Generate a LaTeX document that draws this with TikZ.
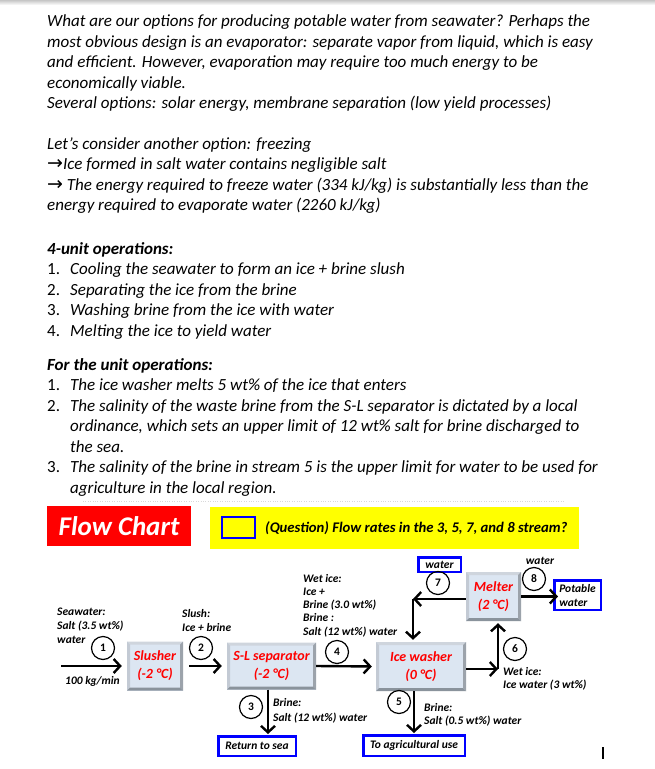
\documentclass[tikz,border=0pt]{standalone}
\usepackage{fontspec}
\setmainfont{Carlito}
\newfontfamily\arrowfont{DejaVu Sans}
\usepackage{xcolor}
\usetikzlibrary{arrows.meta, calc}
\definecolor{procfill}{HTML}{DCE6F2}
\definecolor{bevlight}{HTML}{C3CAD4}
\definecolor{bevdark}{HTML}{8A939C}
\definecolor{unitred}{HTML}{FF0000}
\definecolor{tagblue}{HTML}{0000FF}
\definecolor{qyellow}{HTML}{FFFF00}
\newcommand{\bodyfont}{\fontsize{17}{20.5}\selectfont\itshape}
\newcommand{\labfont}{\fontsize{11.5}{14}\selectfont\bfseries\itshape}
\newcommand{\arr}{{\arrowfont\fontsize{19}{19}\selectfont →}}

\tikzset{
  bodyline/.style={anchor=base west, inner sep=0pt, font=\bodyfont},
  headline/.style={anchor=base west, inner sep=0pt, font=\bodyfont\bfseries},
  unitbox/.style={fill=procfill, inner sep=0pt, align=center, text=unitred,
    font=\fontsize{14}{18}\selectfont\bfseries\itshape,
    path picture={
      \fill[bevlight!80!white] (path picture bounding box.north west) -- (path picture bounding box.north east)
        -- ([shift={(-3pt,-3pt)}]path picture bounding box.north east) -- ([shift={(3pt,-3pt)}]path picture bounding box.north west) -- cycle;
      \fill[bevlight] (path picture bounding box.north west) -- ([shift={(3pt,-3pt)}]path picture bounding box.north west)
        -- ([shift={(3pt,3pt)}]path picture bounding box.south west) -- (path picture bounding box.south west) -- cycle;
      \fill[bevdark!85!white] (path picture bounding box.north east) -- (path picture bounding box.south east)
        -- ([shift={(-3pt,3pt)}]path picture bounding box.south east) -- ([shift={(-3pt,-3pt)}]path picture bounding box.north east) -- cycle;
      \fill[bevdark] (path picture bounding box.south west) -- (path picture bounding box.south east)
        -- ([shift={(-3pt,3pt)}]path picture bounding box.south east) -- ([shift={(3pt,3pt)}]path picture bounding box.south west) -- cycle;
    }},
  streamno/.style={circle, draw, line width=1.2pt, minimum size=23pt, inner sep=0pt,
    font=\fontsize{11.5}{11.5}\selectfont\bfseries},
  flow/.style={line width=2.4pt, -{Straight Barb[length=6.5pt, width=14pt, line width=2.4pt]}},
  tagbox/.style={draw=tagblue, line width=2.5pt, fill=white, inner sep=0pt, font=\labfont},
  lab/.style={anchor=north west, inner sep=0pt, align=left, font=\labfont},
}

\begin{document}
\begin{tikzpicture}[x=1pt, y=-1pt]
  \useasboundingbox (0,0) rectangle (655,769);
  \fill[white] (0,0) rectangle (655,769);
  \shade[top color=gray!45, bottom color=white] (0,0) rectangle (655,5);

  % Intro text
  \foreach \ty/\tline [count=\k] in {
      26/{What are our options for producing potable water from seawater? Perhaps the},
      47/{most obvious design is an evaporator: separate vapor from liquid, which is easy},
      67/{and efficient. However, evaporation may require too much energy to be},
      88/{economically viable.},
      108/{Several options: solar energy, membrane separation (low yield processes)},
      149/{Let’s consider another option: freezing},
      169/{\arr Ice formed in salt water contains negligible salt},
      190/{\arr\ The energy required to freeze water (334 kJ/kg) is substantially less than the},
      210/{energy required to evaporate water (2260 kJ/kg)}}
    \node[bodyline] (intro\k) at (47,\ty) {\tline};

  % Unit operations
  \node[headline] (opshead) at (47,254) {4-unit operations:};
  \foreach \ty/\lno/\tline [count=\k] in {
      274/1./{Cooling the seawater to form an ice + brine slush},
      295/2./{Separating the ice from the brine},
      315/3./{Washing brine from the ice with water},
      336/4./{Melting the ice to yield water}}
    \node[bodyline] (ops\k) at (47,\ty) {\makebox[23pt][l]{\upshape\lno}\tline};

  % Conditions
  \node[headline] (condhead) at (47,370) {For the unit operations:};
  \foreach \ty/\lno/\tline [count=\k] in {
      390/1./{The ice washer melts 5 wt\% of the ice that enters},
      411/2./{The salinity of the waste brine from the S-L separator is dictated by a local},
      431/{}/{ordinance, which sets an upper limit of 12 wt\% salt for brine discharged to},
      452/{}/{the sea.},
      472/3./{The salinity of the brine in stream 5 is the upper limit for water to be used for},
      493/{}/{agriculture in the local region.}}
    \node[bodyline] (cond\k) at (47,\ty) {\makebox[23pt][l]{\upshape\lno}\tline};

  \draw[gray!30, dotted] (83,501) -- (565,501);

  % Title bar
  \node[fill=unitred, minimum width=144pt, minimum height=40pt, inner sep=0pt,
        text=white, font=\fontsize{27}{27}\selectfont\bfseries\itshape]
    (title) at (119,526) {Flow Chart};
  \node[fill=qyellow, minimum width=369pt, minimum height=42pt, inner sep=0pt]
    (qbar) at (394.5,528) {};
  \node[draw=tagblue, line width=2.5pt, minimum width=33pt, minimum height=21pt, inner sep=0pt]
    (qkey) at (238.5,527.5) {};
  \node[anchor=west, inner sep=0pt, font=\fontsize{14.7}{14.7}\selectfont\bfseries\itshape]
    (qtext) at (265,528) {(Question) Flow rates in the 3, 5, 7, and 8 stream?};

  % Units
  \node[unitbox, minimum width=56pt, minimum height=49pt] (slusher) at (155,666) {Slusher\\(-2 °C)};
  \node[unitbox, minimum width=89pt, minimum height=47pt] (sl) at (271.5,666) {S-L separator\\(-2 °C)};
  \node[unitbox, minimum width=90pt, minimum height=49pt] (washer) at (421,666.5) {Ice washer\\(0 °C)};
  \node[unitbox, minimum width=55pt, minimum height=49pt] (melter) at (493.5,596.5) {Melter\\(2 °C)};

  % Sinks
  \node[tagbox, minimum width=77.5pt, minimum height=19.5pt] (ret) at (257,746) {Return to sea};
  \node[tagbox, minimum width=101.5pt, minimum height=20.5pt] (agri) at (414,745.5) {To agricultural use};
  \node[tagbox, minimum width=42.5pt, minimum height=14.5pt] (water7) at (439.5,564.5) {water};
  \node[tagbox, minimum width=46.5pt, minimum height=29.5pt, align=left] (pot) at (577.5,595) {Potable\\water};

  % Streams
  \coordinate (seain) at (61,666);
  \coordinate (j6) at (498,669);
  \coordinate (j7) at (413,599);
  \draw[flow, shorten >=5pt] (seain) -- (slusher.west);
  \draw[flow, shorten <=6pt, shorten >=5pt] (slusher.east) -- (sl.west);
  \draw[flow, shorten >=4pt] (sl.east) -- (washer.west);
  \draw[flow, shorten >=1pt] ([xshift=-3.5pt]sl.south) -- ([xshift=-3.5pt]sl.south |- ret.north);
  \draw[flow, shorten >=1pt] (washer.south -| agri.north) -- (agri.north);
  \draw[flow] (washer.east |- j6) -- (j6);
  \draw[flow, shorten >=2pt] (j6) -- (j6 |- melter.south);
  \draw[flow] (melter.west |- j7) -- (j7);
  \draw[flow, shorten >=2pt] (j7) -- (j7 |- washer.north);
  \draw[flow] (melter.east) -- ([xshift=5pt]melter.east -| pot.west);

  % Stream numbers
  \foreach \sx/\sy/\sn in {103/648/1, 201/648/2, 251/707/3, 337/652/4,
                           399/702/5, 515/649/6, 438/583/7, 534/579/8}
    \node[streamno] (s\sn) at (\sx,\sy) {\sn};

  % Stream labels
  \node[lab] (lab1) at (57,608) {Seawater:\\Salt (3.5 wt\%)\\water};
  \node[lab, anchor=west] (rate1) at (65,681) {100 kg/min};
  \node[lab] (lab2) at (182,609) {Slush:\\Ice + brine};
  \node[lab, font=\fontsize{11.5}{13.2}\selectfont\bfseries\itshape] (lab4) at (303,574)
    {Wet ice:\\Ice +\\Brine (3.0 wt\%)\\Brine :\\Salt (12 wt\%) water};
  \node[lab, font=\fontsize{11.5}{15}\selectfont\bfseries\itshape] (lab3) at (273,698) {Brine:\\Salt (12 wt\%) water};
  \node[lab, font=\fontsize{11.5}{13.5}\selectfont\bfseries\itshape] (lab5) at (424,703) {Brine:\\Salt (0.5 wt\%) water};
  \node[lab, font=\fontsize{11.5}{13.5}\selectfont\bfseries\itshape] (lab6) at (503,667) {Wet ice:\\Ice water (3 wt\%)};
  \node[inner sep=0pt, font=\labfont] (lab8) at (540,561) {water};

  \draw[line width=1.2pt] (603,747) -- (603,759);
\end{tikzpicture}
\end{document}
